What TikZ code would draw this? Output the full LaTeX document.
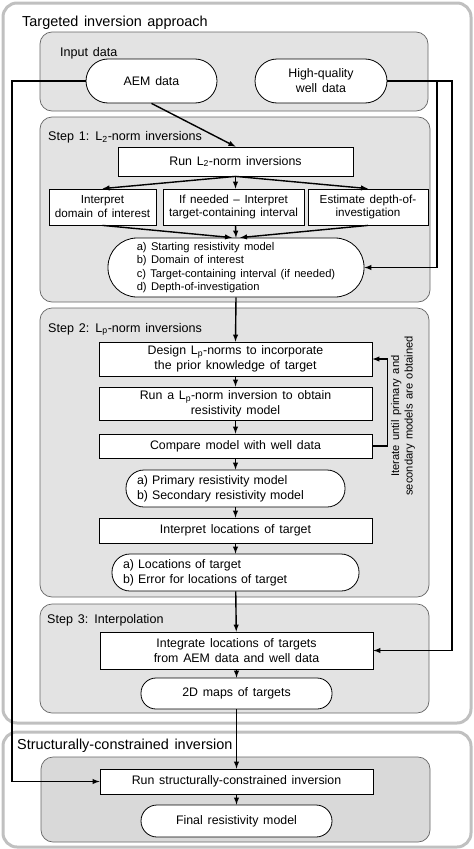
\documentclass[tikz,border=0pt]{standalone}
\usepackage{fontspec}
\setmainfont{Liberation Sans}[WordSpace=1.4]

\definecolor{framegray}{HTML}{C0C0C0}
\definecolor{panelgray}{HTML}{E3E3E3}
\definecolor{paneldark}{HTML}{D9D9D9}
\definecolor{paneledge}{HTML}{666666}

\newcommand{\bigfont}{\fontsize{14.5}{17}\selectfont}
\newcommand{\stepfont}{\fontsize{12.6}{15}\selectfont}
\newcommand{\boxfont}{\fontsize{12.4}{15}\selectfont}
\newcommand{\smallfont}{\fontsize{11.7}{14}\selectfont}
\newcommand{\listfont}{\fontsize{11.2}{13.5}\selectfont}

\begin{document}
\begin{tikzpicture}[x=1bp,y=-1bp,>=latex,
	frame/.style={draw=framegray, line width=3bp, fill=white, rounded corners=14bp},
	panel/.style={draw=paneledge, line width=0.7bp, fill=panelgray, rounded corners=12bp},
	procbox/.style={draw, fill=white, line width=0.8bp, inner sep=0pt, align=center,
		minimum width=273bp, font=\boxfont},
	smallbox/.style={procbox, minimum height=36bp, font=\smallfont},
	stadium/.style={procbox},
	label/.style={anchor=base west, inner sep=0pt},
	link/.style={line width=1.4bp}]
		\useasboundingbox (0,0) rectangle (474,849);
		% frames and panels
		\draw[frame] (3,3) rectangle (471,723);
		\draw[frame] (3,732) rectangle (471,847);
		\draw[panel] (40,32) rectangle (428,111);
		\draw[panel] (40,117) rectangle (430,302);
		\draw[panel] (40,308) rectangle (429,597);
		\draw[panel] (40,604) rectangle (429,713);
		\draw[panel, fill=paneldark] (41,757) rectangle (430,842);
		\node[label, font=\bigfont] (ttarget) at (22,26) {Targeted inversion approach};
		\node[label, font=\stepfont] (tinput) at (60,56) {Input data};
		\node[label, font=\stepfont] (tstepone) at (48,140) {Step 1: L\textsubscript{2}-norm inversions};
		\node[label, font=\stepfont] (tsteptwo) at (48,332) {Step 2: L\textsubscript{p}-norm inversions};
		\node[label, font=\stepfont] (tstepthree) at (47,623) {Step 3: Interpolation};
		\node[label, font=\bigfont] (tstruct) at (17,749) {Structurally-constrained inversion};
		% input data
		\node[stadium, minimum width=131bp, minimum height=44bp, rounded corners=22bp] (aem) at (151.5,81) {AEM data};
		\node[stadium, minimum width=132bp, minimum height=44bp, rounded corners=22bp] (well) at (321,81) {High-quality\\well data};
		% step 1
		\node[procbox, minimum width=235bp, minimum height=29bp] (runltwo) at (235.5,161.5) {Run L\textsubscript{2}-norm inversions};
		\node[smallbox, minimum width=107bp] (domain) at (102.5,207) {Interpret\\domain of interest};
		\node[smallbox, minimum width=141bp] (interval) at (233.5,207) {If needed -- Interpret\\target-containing interval};
		\node[smallbox, minimum width=120bp] (doi) at (368,207) {Estimate depth-of-\\investigation};
		\node[stadium, minimum width=256bp, minimum height=59bp, rounded corners=29bp, align=left, font=\listfont] (inputs) at (236,267.5)
			{a) Starting resistivity model\\b) Domain of interest\\c) Target-containing interval (if needed)\\d) Depth-of-investigation};
		% step 2
		\node[procbox, minimum height=34bp] (design) at (235.5,359) {Design L\textsubscript{p}-norms to incorporate\\the prior knowledge of target};
		\node[procbox, minimum height=33bp] (runlp) at (235.5,403.5) {Run a L\textsubscript{p}-norm inversion to obtain\\resistivity model};
		\node[procbox, minimum height=24bp] (compare) at (235.5,446) {Compare model with well data};
		\node[stadium, minimum width=219bp, minimum height=37bp, rounded corners=18bp, text width=197bp, align=left] (models) at (235.5,488.5)
			{a) Primary resistivity model\\b) Secondary resistivity model};
		\node[procbox, minimum height=25bp] (interploc) at (235.5,530.5) {Interpret locations of target};
		\node[stadium, minimum width=247bp, minimum height=37bp, rounded corners=18bp, text width=225bp, align=left] (locs) at (235.5,572.5)
			{a) Locations of target\\b) Error for locations of target};
		\node[rotate=90, align=center, font=\listfont] (iterate) at (403,416) {Iterate until primary and\\secondary models are obtained};
		% step 3
		\node[procbox, minimum height=37bp] (integrate) at (236.5,650.5) {Integrate locations of targets\\from AEM data and well data};
		\node[stadium, minimum width=191bp, minimum height=31bp, rounded corners=15bp] (maps) at (236.5,693.5) {2D maps of targets};
		% structurally-constrained inversion
		\node[procbox, minimum height=25bp] (runsc) at (236.5,781.5) {Run structurally-constrained inversion};
		\node[stadium, minimum width=191bp, minimum height=32bp, rounded corners=16bp] (final) at (236.5,821) {Final resistivity model};
		% rails
		\coordinate (leftrail) at (12,0);
		\coordinate (railA) at (437,0);
		\coordinate (railB) at (452,0);
		% connectors
		\draw[link,->] (aem.south) -- (runltwo.north);
		\draw[link,->] (runltwo.south) -- (domain.north);
		\draw[link,->] (runltwo.south) -- (runltwo.south |- interval.north);
		\draw[link,->] (runltwo.south) -- (doi.north);
		\draw[link,->] (domain.south) -- ([xshift=-4bp]inputs.north);
		\draw[link,->] (runltwo.south |- interval.south) -- (inputs.north);
		\draw[link,->] (doi.south) -- ([xshift=4bp]inputs.north);
		\draw[link,->] (inputs.south) -- (design.north);
		\draw[link,->] (design) -- (runlp);
		\draw[link,->] (runlp) -- (compare);
		\draw[link,->] (compare) -- (models);
		\draw[link,->] (models) -- (interploc);
		\draw[link,->] (interploc) -- (locs);
		\draw[link,->] (locs) -- (integrate);
		\draw[link,->] (integrate) -- (maps);
		\draw[link,->] (maps) -- (runsc);
		\draw[link,->] (runsc) -- (final);
		\draw[link,->] (compare.east) -- ++(15,0) |- (design.east);
		\draw[link,->] (aem.west) -- (aem.west -| leftrail) |- (runsc.west);
		\draw[link,->] (well.east) -- (well.east -| railB) |- (integrate.east);
		\draw[link,->] (well.east -| railA) |- (inputs.east);
\end{tikzpicture}
\end{document}
